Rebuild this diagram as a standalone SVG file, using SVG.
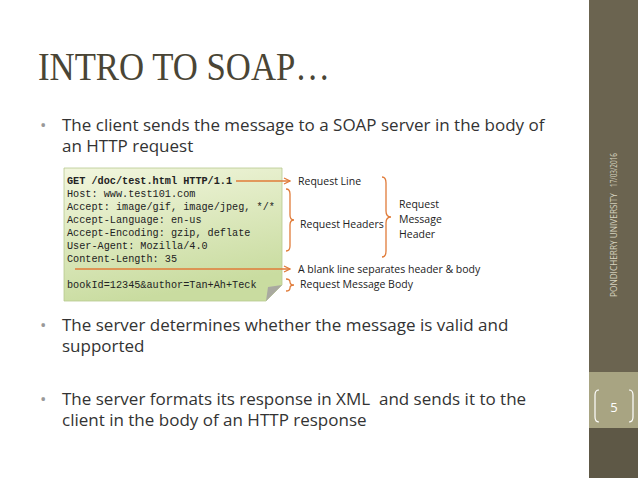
<svg xmlns="http://www.w3.org/2000/svg" width="638" height="478" viewBox="0 0 638 478">
<defs>
<linearGradient id="g" x1="0" y1="0" x2="0.3" y2="1"><stop offset="0" stop-color="#f2f6de"/><stop offset="1" stop-color="#c9dca0"/></linearGradient>
<marker id="a" markerWidth="8" markerHeight="8" refX="7" refY="4" orient="auto" markerUnits="userSpaceOnUse"><path d="M1,1 L7,4 L1,7" fill="none" stroke="#e07b39" stroke-width="1.3"/></marker>
<style>
.m{font-family:"Liberation Mono",monospace;font-size:10.2px;fill:#222}
.s{font-family:"Open Sans","Liberation Sans",sans-serif;font-size:10.5px;fill:#222}
.b{font-family:"Open Sans","Liberation Sans",sans-serif;font-size:17px;fill:#333}
.br{fill:none;stroke:#e07b39;stroke-width:1.3}
.sd{font-family:"Open Sans","Liberation Sans",sans-serif;font-size:9px;fill:#d8d4c0}
</style>
</defs>
<rect width="638" height="478" fill="#fff"/>
<g id="sidebar">
<rect x="589" y="0" width="49" height="478" fill="#6b6450"/>
<rect x="589" y="372" width="49" height="56" fill="#a8a482"/>
<rect x="589" y="428" width="49" height="50" fill="#5e5846"/>
<text class="sd" transform="translate(617,297) rotate(-90)" textLength="104" lengthAdjust="spacingAndGlyphs">PONDICHERRY UNIVERSITY</text>
<text class="sd" transform="translate(617,187) rotate(-90)" textLength="34" lengthAdjust="spacingAndGlyphs">17/03/2016</text>
<path d="M599,390 q-4,0 -4,5 v22 q0,5 4,5 M629,390 q4,0 4,5 v22 q0,5 -4,5" fill="none" stroke="#fff" stroke-width="1.2"/>
<text x="614" y="412" text-anchor="middle" font-family="Open Sans,Liberation Sans,sans-serif" font-size="13" fill="#fff">5</text>
</g>
<text x="38" y="80" font-family="Liberation Serif,serif" font-size="40" fill="#4a4535" textLength="292" lengthAdjust="spacingAndGlyphs">INTRO TO SOAP…</text>
<g id="bullets" class="b">
<text x="40" y="131" fill="#999">•</text><text x="62" y="131">The client sends the message to a SOAP server in the body of</text>
<text x="62" y="152">an HTTP request</text>
<text x="40" y="331" fill="#999">•</text><text x="62" y="331">The server determines whether the message is valid and</text>
<text x="62" y="352">supported</text>
<text x="40" y="405" fill="#999">•</text><text x="62" y="405" xml:space="preserve">The server formats its response in XML  and sends it to the</text>
<text x="62" y="426">client in the body of an HTTP response</text>
</g>
<g id="request">
<path d="M64,168 H282 V285 L266,301 H64 Z" fill="url(#g)" stroke="#b8c990" stroke-width="0.8"/>
<path d="M282,285 L266,301 L268,287 Z" fill="#a9a9a0"/>
<text class="m" x="67" y="184" font-weight="bold">GET /doc/test.html HTTP/1.1</text>
<text class="m" x="67" y="197">Host: www.test101.com</text>
<text class="m" x="67" y="210">Accept: image/gif, image/jpeg, */*</text>
<text class="m" x="67" y="223">Accept-Language: en-us</text>
<text class="m" x="67" y="236">Accept-Encoding: gzip, deflate</text>
<text class="m" x="67" y="249">User-Agent: Mozilla/4.0</text>
<text class="m" x="67" y="262">Content-Length: 35</text>
<text class="m" x="67" y="288">bookId=12345&amp;author=Tan+Ah+Teck</text>
</g>
<g id="connectors">
<line class="br" x1="236" y1="181" x2="290" y2="181" marker-end="url(#a)"/>
<line class="br" x1="75" y1="269" x2="290" y2="269" marker-end="url(#a)"/>
<path class="br" d="M286,189 q4,0 4,5 v21 q0,5 4,5 q-4,0 -4,5 v21 q0,5 -4,5"/>
<path class="br" d="M382,177 q4,0 4,6 v28 q0,6 5,6 q-5,0 -5,6 v28 q0,6 -4,6"/>
<path class="br" d="M286,279 q4,0 4,3 q0,3 4,3 q-4,0 -4,3 q0,3 -4,3"/>
</g>
<g id="labels" class="s">
<text x="298" y="185">Request Line</text>
<text x="300" y="228">Request Headers</text>
<text x="399" y="208">Request</text>
<text x="399" y="223">Message</text>
<text x="399" y="238">Header</text>
<text x="298" y="273">A blank line separates header &amp; body</text>
<text x="300" y="288">Request Message Body</text>
</g>
</svg>
